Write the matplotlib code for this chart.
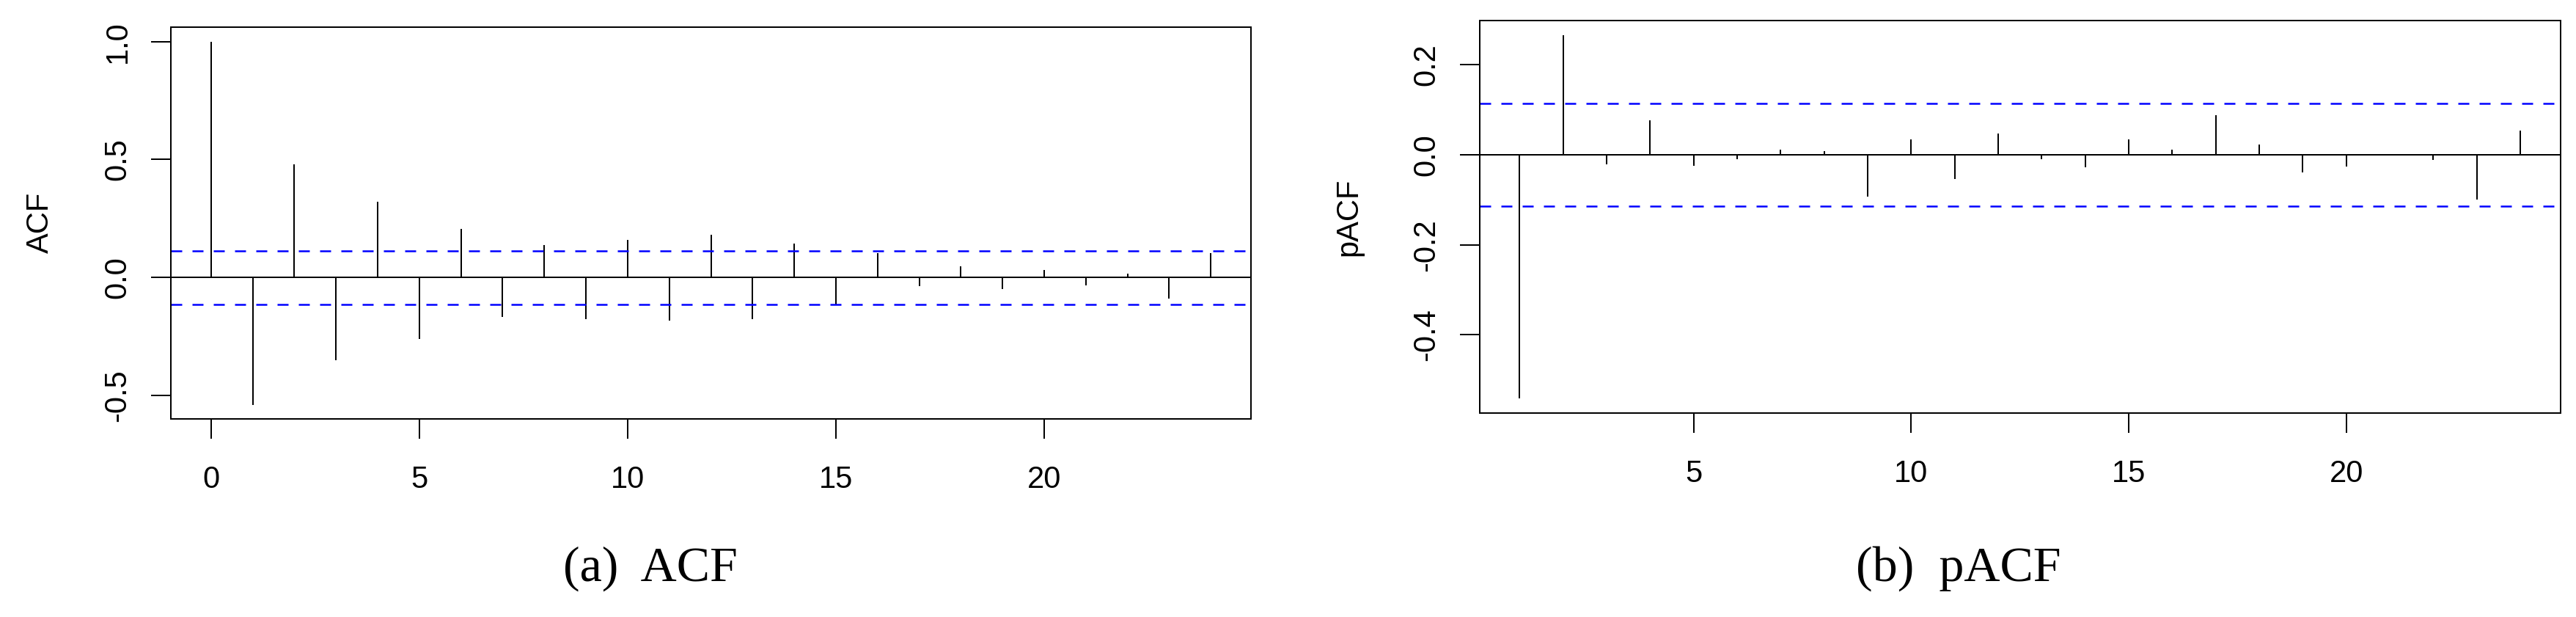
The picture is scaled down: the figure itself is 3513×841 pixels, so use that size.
import matplotlib
matplotlib.use("Agg")
import matplotlib.pyplot as plt
import numpy as np

plt.rcParams['font.family'] = ['Liberation Sans', 'DejaVu Sans']
plt.rcParams['axes.unicode_minus'] = False

# ---- data ----
acf_lags = list(range(0, 25))
acf_vals = [1.000, -0.540, 0.480, -0.351, 0.320, -0.261, 0.207, -0.166, 0.138,
            -0.175, 0.160, -0.182, 0.181, -0.176, 0.144, -0.115, 0.105, -0.037,
            0.048, -0.049, 0.031, -0.033, 0.018, -0.089, 0.105]
pacf_lags = list(range(1, 25))
pacf_vals = [-0.541, 0.266, -0.022, 0.077, -0.024, -0.010, 0.012, 0.008, -0.093,
             0.034, -0.054, 0.047, -0.010, -0.027, 0.035, 0.012, 0.088, 0.022,
             -0.039, -0.026, -0.002, -0.012, -0.100, 0.054]
ci = 0.114
acf_yticks = [-0.5, 0.0, 0.5, 1.0]
acf_xticks = [0, 5, 10, 15, 20]
pacf_yticks = [-0.4, -0.2, 0.0, 0.2]
pacf_xticks = [5, 10, 15, 20]
captions = ["(a)  ACF", "(b)  pACF"]
ylabels = ["ACF", "pACF"]

W, H = 3513, 841
fig = plt.figure(figsize=(W / 100, H / 100), dpi=100)

LW = 1.44
BLW = 1.8
FS = 30

def px_axes(l, t, r, b):
    return fig.add_axes([l / W, (H - b) / H, (r - l) / W, (b - t) / H])

ax1 = px_axes(233.3, 36.7, 1705.7, 571.0)
ax2 = px_axes(2017.7, 28.3, 3491.7, 562.7)

panels = [
    (ax1, acf_lags, acf_vals, acf_xticks, acf_yticks, (-0.96, 24.96), (-0.599, 1.062)),
    (ax2, pacf_lags, pacf_vals, pacf_xticks, pacf_yticks, (0.08, 24.92), (-0.5733, 0.2978)),
]

for i, (ax, lags, vals, xt, yt, xl, yl) in enumerate(panels):
    ax.vlines(lags, 0, vals, colors='black', linewidth=LW)
    ax.axhline(0, color='black', linewidth=LW)
    for s in (ci, -ci):
        ax.axhline(s, color='#0000FF', linewidth=BLW, linestyle=(0, (6.0, 5.6)))
    ax.set_xlim(*xl)
    ax.set_ylim(*yl)
    ax.set_xticks(xt, [str(v) for v in xt], fontsize=FS)
    ax.set_yticks(yt, [f"{v:.1f}" for v in yt], fontsize=FS, rotation=90, va='center')
    ax.tick_params(axis='both', length=19.5, width=LW, direction='out', color='black')
    ax.tick_params(axis='x', pad=26)
    ax.tick_params(axis='y', pad=18.5)
    for sp in ax.spines.values():
        sp.set_linewidth(LW)
        sp.set_color('black')
    ax.set_ylabel(ylabels[i], fontsize=FS)
    ax.yaxis.label.set_verticalalignment('baseline')
    axw = (1705.7 - 233.3) if i == 0 else (3491.7 - 2017.7)
    ax.yaxis.set_label_coords(-167 / axw, 0.5)

fig.text(887 / W, (H - 792) / H, captions[0], ha='center', va='baseline',
         fontsize=49, family=['Liberation Serif', 'DejaVu Serif'])
fig.text(2671 / W, (H - 792) / H, captions[1], ha='center', va='baseline',
         fontsize=49, family=['Liberation Serif', 'DejaVu Serif'])

fig.savefig("out.png", dpi=100, facecolor='white')
